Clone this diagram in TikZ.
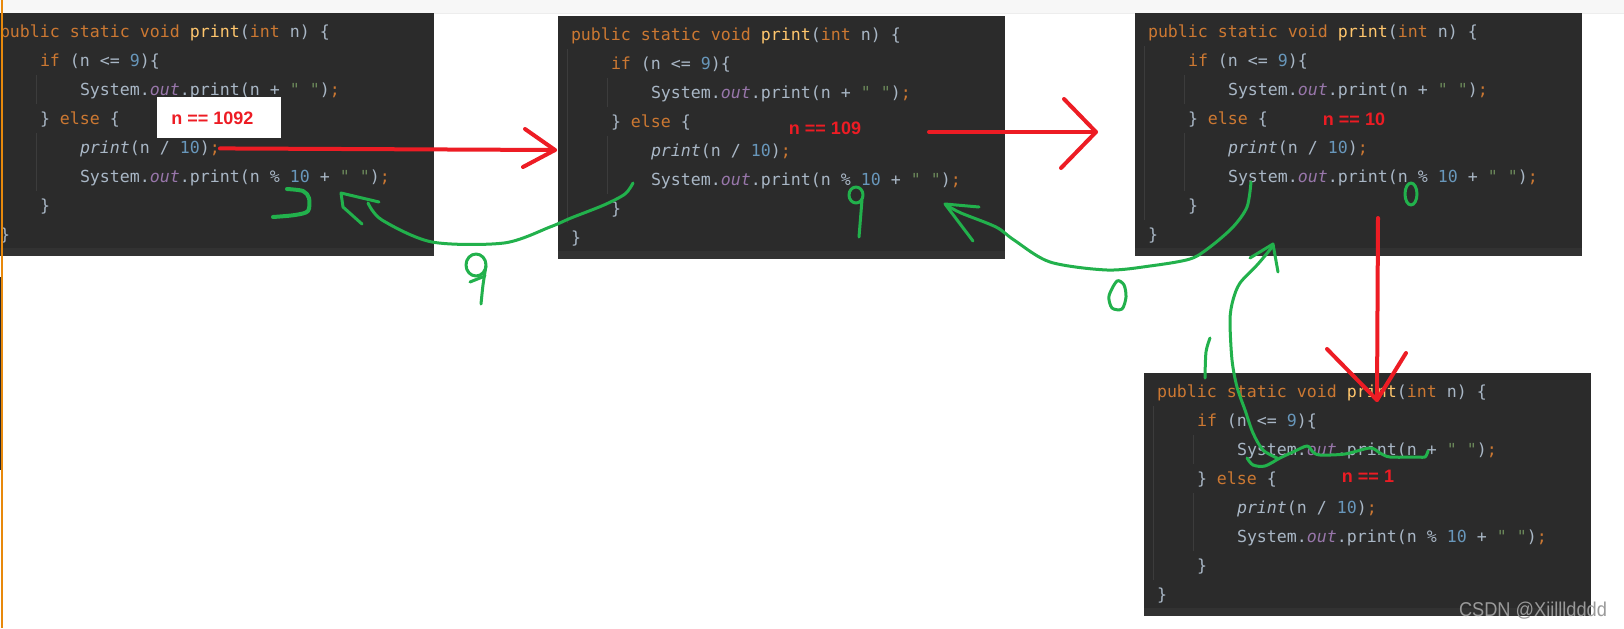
\documentclass[tikz,border=0pt]{standalone}
\usepackage{fontspec}
\setmainfont{Liberation Sans}
\newfontfamily\codefont{DejaVu Sans Mono}
\usepackage{tikz}
\usetikzlibrary{positioning}

\definecolor{editorbg}{HTML}{2B2B2B}
\definecolor{editorbar}{HTML}{323232}
\definecolor{guidecol}{HTML}{3C3C3C}
\definecolor{plaintxt}{HTML}{A9B7C6}
\definecolor{keyword}{HTML}{CC7832}
\definecolor{method}{HTML}{FFC66D}
\definecolor{number}{HTML}{6897BB}
\definecolor{string}{HTML}{6A8759}
\definecolor{field}{HTML}{9876AA}
\definecolor{penred}{HTML}{ED1C24}
\definecolor{pengreen}{HTML}{22B14C}
\definecolor{topbar}{HTML}{F7F7F7}
\definecolor{sidebar}{HTML}{E8890C}

\newcommand{\ckw}[1]{\textcolor{keyword}{#1}}
\newcommand{\cmth}[1]{\textcolor{method}{#1}}
\newcommand{\cnum}[1]{\textcolor{number}{#1}}
\newcommand{\cstr}[1]{\textcolor{string}{#1}}
\newcommand{\cfld}[1]{\textcolor{field}{\itshape #1}}

\tikzset{
    editor/.style={anchor=north west, fill=editorbg, inner sep=0pt, minimum width=223.5pt, minimum height=121.5pt},
    codeline/.style={anchor=base west, inner sep=0pt, outer sep=0pt, text=plaintxt, font=\codefont\fontsize{8.3}{10}\selectfont},
    guide/.style={guidecol, line width=0.5pt},
    memo/.style={inner sep=0pt, text=penred, font=\bfseries\fontsize{9}{10}\selectfont},
    redpen/.style={penred, line width=2pt, line cap=round, line join=round},
    greenpen/.style={pengreen, line width=1.5pt, line cap=round, line join=round},
}

% one editor window: name, left, top (pixels)
\newcommand{\codebox}[3]{%
    \begin{scope}[shift={(#2,#3)}]
        \node[editor] (#1) at (0,0) {};
        \fill[editorbar] (0,235) rectangle (447,243);
        \draw[guide] (9,33)--(9,207);
        \draw[guide] (49,62)--(49,91);
        \draw[guide] (49,120)--(49,178);
        \node[codeline] (#1-1) at (13,24) {\ckw{public static void} \cmth{print}(\ckw{int} n) \{};
        \node[codeline] (#1-2) at (53,53) {\ckw{if} (n <= \cnum{9})\{};
        \node[codeline] (#1-3) at (93,82) {System.\cfld{out}.print(n + \cstr{" "})\ckw{;}};
        \node[codeline] (#1-4) at (53,111) {\} \ckw{else} \{};
        \node[codeline] (#1-5) at (93,140) {\textit{print}(n / \cnum{10})\ckw{;}};
        \node[codeline] (#1-6) at (93,169) {System.\cfld{out}.print(n \% \cnum{10} + \cstr{" "})\ckw{;}};
        \node[codeline] (#1-7) at (53,198) {\}};
        \node[codeline] (#1-8) at (13,227) {\}};
    \end{scope}}

\begin{document}
\begin{tikzpicture}[x=0.5pt, y=-0.5pt]
    \useasboundingbox (0,0) rectangle (1624,628);
    \clip (0,0) rectangle (1624,628);
    \fill[white] (0,0) rectangle (1624,628);
    \fill[topbar] (0,0) rectangle (1624,13);
    \draw[black!7, line width=0.5pt] (0,13)--(1624,13);

    \codebox{b1}{-13}{13}
    \codebox{b2}{558}{16}
    \codebox{b3}{1135}{13}
    \codebox{b4}{1144}{373}

    \fill[editorbg] (0,277) rectangle (1.5,470);
    \draw[sidebar, line width=0.8pt] (2,0)--(2,628);

    % values of n
    \node[fill=white, inner sep=0pt, minimum width=62pt, minimum height=20.5pt] (n1092box) at (219,117.5) {};
    \node[memo, anchor=west] (n1092) at (171,118) {n == 1092};
    \node[memo] (n109) at (825,128) {n == 109};
    \node[memo] (n10) at (1354,119) {n == 10};
    \node[memo] (n1) at (1368,476) {n == 1};

    % calls
    \coordinate (r1tip) at (555,150);
    \coordinate (r2from) at (929,132);
    \coordinate (r2tip) at (1096,132);
    \coordinate (r3from) at (1378,218);
    \coordinate (r3tip) at (1377,400);
    \draw[redpen] (b1-5.east)--(r1tip);
    \draw[redpen] (525,129)--(r1tip)--(523,167);
    \draw[redpen] (r2from)--(r2tip);
    \draw[redpen] (1064,99)--(r2tip)--(1061,168);
    \draw[redpen] (r3from)--(r3tip);
    \draw[redpen] (1327,349)--(r3tip)--(1406,353);

    % returns
    \coordinate (gA1) at (633,183);
    \coordinate (gA2) at (368,203);
    \coordinate (gAtip) at (341,193);
    \draw[greenpen] plot[smooth] coordinates {(gA1) (625,194) (604,205) (571,218) (550,227) (504,243) (432,242) (382,220) (gA2)};
    \draw[greenpen] (379,202)--(gAtip)--(343,207)--(362,224);

    \coordinate (gB1) at (1251,182);
    \coordinate (gB2) at (948,206);
    \coordinate (gBtip) at (945,204);
    \draw[greenpen] plot[smooth] coordinates {(gB1) (1247,207) (1233,227) (1210,247) (1190,259) (1150,266) (1107,270) (1050,262) (1014,240) (996,227) (961,213) (gB2)};
    \draw[greenpen] (979,207)--(gBtip)--(973,241);

    \coordinate (gC1) at (1277,458);
    \coordinate (gC2) at (1273,246);
    \coordinate (gCtip) at (1273,244);
    \draw[greenpen] plot[smooth] coordinates {(gC1) (1263,450) (1253,433) (1245,410) (1237,387) (1232,360) (1230,320) (1233,300) (1240,283) (1258,264) (gC2)};
    \draw[greenpen] (1250,258)--(gCtip)--(1278,272);
    \draw[greenpen] plot[smooth] coordinates {(1247,458) (1253,465) (1265,466) (1280,458) (1293,452) (1307,446) (1313,452) (1320,455) (1345,454) (1370,448) (1380,453) (1390,457) (1417,457) (1425,457) (1428,451)};
    \draw[greenpen] plot[smooth] coordinates {(1210,338) (1206,352) (1205,378)};

    % digits
    \draw[greenpen, line width=2pt] plot[smooth] coordinates {(287,189) (303,191) (309,198) (308,211) (295,215) (273,217)};
    \draw[greenpen] (476,265) ellipse [x radius=10, y radius=11];
    \draw[greenpen] plot[smooth] coordinates {(486,266) (483,285) (481,304)};
    \draw[greenpen] (470,282)--(485,276);
    \draw[greenpen] (856,195) ellipse [x radius=7, y radius=8];
    \draw[greenpen] (862,200)--(859,237);
    \draw[greenpen] plot[smooth cycle] coordinates {(1117,281) (1109,296) (1112,308) (1122,309) (1126,297) (1124,285)};
    \draw[greenpen] (1411,194) ellipse [x radius=6, y radius=11];

    \node[text=black!40, inner sep=0pt, xscale=0.91, font=\fontsize{10}{11}\selectfont] (mark) at (1533,611) {CSDN @Xiillldddd};
\end{tikzpicture}
\end{document}
